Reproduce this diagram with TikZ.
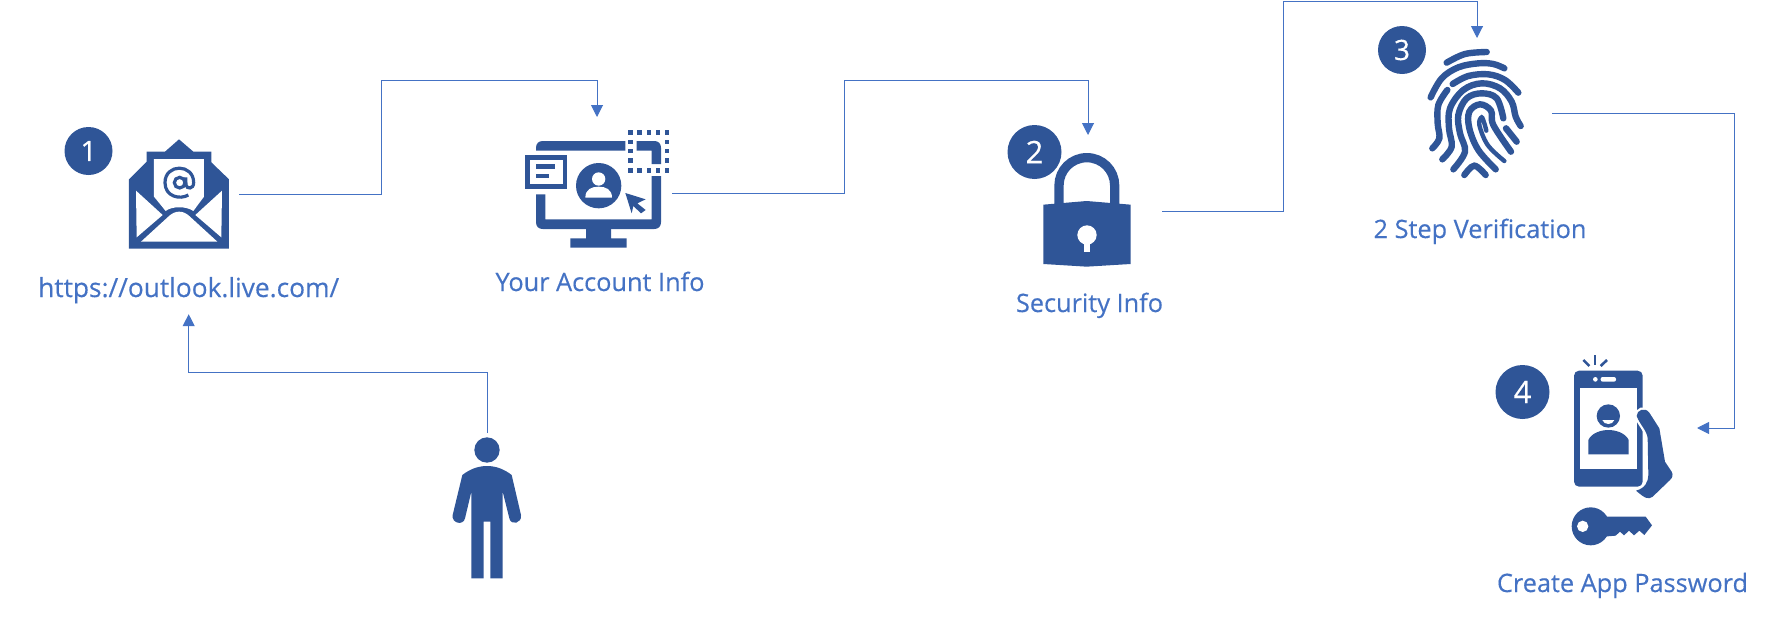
\documentclass[tikz,border=0pt]{standalone}
\usepackage{fontspec}
\setmainfont{Open Sans}
\newfontfamily\heavyfont[FakeBold=0.35]{Open Sans}
\usetikzlibrary{arrows.meta}
\definecolor{icon}{HTML}{2F5597}
\definecolor{flow}{HTML}{4472C4}
\tikzset{
  iconbox/.style={minimum width=#1,inner sep=0pt,outer sep=0pt},
  flowline/.style={draw=flow,line width=1pt,-{Triangle[length=12pt,width=12pt]}},
  badge/.style={circle,fill=icon,text=white,inner sep=0pt,minimum size=#1,font=\heavyfont\fontsize{31}{34}\selectfont},
  caption/.style={anchor=base,text=flow,inner sep=0pt,font=\heavyfont\fontsize{25.3}{30}\selectfont},
  ridge/.style={draw=icon,line width=6.4pt,line cap=round,smooth,tension=0.6}
}

\begin{document}
\begin{tikzpicture}[x=1pt,y=-1pt]
\useasboundingbox (0,0) rectangle (1769,621);

% icons are only frames here, the shapes come further down
\node [iconbox=110pt,minimum height=110pt] (mail) at (184,194) {};
\node [iconbox=150pt,minimum height=152pt] (account) at (597,193) {};
\node [iconbox=148pt,minimum height=152pt] (lock) at (1088,211) {};
\node [iconbox=150pt,minimum height=150pt] (finger) at (1477,113) {};
\node [iconbox=123pt,minimum height=120pt] (phone) at (1635.5,428) {};
\node [iconbox=70pt,minimum height=145pt] (user) at (487.7,505.5) {};

% captions
\node [caption,text depth=17pt,font=\heavyfont\fontsize{26.3}{30}\selectfont] (url) at (188.7,297) {https://outlook.live.com/};
\node [caption] (accountcap) at (600,291) {Your Account Info};
\node [caption] (lockcap) at (1089.5,312) {Security Info};
\node [caption] (fingercap) at (1480,238) {2 Step Verification};
\node [caption] (phonecap) at (1622.5,592) {Create App Password};

% numbers
\node [badge=48pt,font=\heavyfont\fontsize{28}{30}\selectfont] (one) at (88.5,151) {1};
\node [badge=54pt] (two) at (1034.5,152) {2};
\node [badge=48pt,font=\heavyfont\fontsize{28}{30}\selectfont] (three) at (1402,50) {3};
\node [badge=54pt] (four) at (1522.5,392) {4};

% bends
\coordinate (b0) at (188.7,372);
\coordinate (b1) at (381,80);
\coordinate (b2) at (844,80);
\coordinate (b3) at (1283,1);
\coordinate (b4) at (1734,428);

\draw [flowline] (user.north) |- (b0) -- (url.south);
\draw [flowline] (mail.east) -| (b1) -| (account.north);
\draw [flowline] (account.east) -| (b2) -| (lock.north);
\draw [flowline] (lock.east) -| (b3) -| (finger.north);
\draw [flowline] (finger.east) -| (b4) -- (phone.east);

% envelope
\begin{scope}[shift={(0,100)},scale=1/3]
\fill [icon] (387,446) -- (387,238) -- (440,185) -- (440,155) -- (495,155) -- (537,118) -- (580,155) -- (634,155) -- (634,187) -- (687,238) -- (687,446) -- cycle;
\fill [white] (462,177) -- (612,177) -- (612,290) -- (580,333) .. controls (560,318) and (515,318) .. (497,333) -- (462,290) -- cycle;
\fill [white] (408,272) -- (488,345) -- (410,412) -- cycle;
\fill [white] (666,272) -- (586,345) -- (664,412) -- cycle;
\fill [white] (423,425) -- (505,350) .. controls (525,330) and (550,330) .. (570,350) -- (652,425) -- cycle;
\draw [icon,line width=3.2pt] (539,248) circle (16);
\draw [icon,line width=3.2pt] (557,232) -- (558,255) .. controls (560,268) and (581,268) .. (581,248) .. controls (581,190) and (495,190) .. (495,248) .. controls (495,290) and (540,300) .. (565,285);
\end{scope}

% monitor
\begin{scope}[shift={(480,100)},scale=1/3]
\fill [icon] (436,123) -- (188,123) .. controls (176,123) and (168,131) .. (168,143) -- (168,152) -- (436,152) -- cycle;
\fill [icon] (470,123) -- (523,123) .. controls (535,123) and (543,131) .. (543,143) -- (543,192) -- (515,192) -- (515,152) -- (470,152) -- cycle;
\fill [icon] (168,283) -- (196,283) -- (196,358) -- (515,358) -- (515,228) -- (543,228) -- (543,367) .. controls (543,379) and (535,387) .. (523,387) -- (188,387) .. controls (176,387) and (168,379) .. (168,367) -- cycle;
\fill [icon] (318,387) -- (393,387) -- (393,415) -- (440,415) -- (440,443) -- (271,443) -- (271,415) -- (318,415) -- cycle;
\fill [icon] (135,166) rectangle (262,266);
\fill [white] (149,180) rectangle (248,252);
\fill [icon] (168,192) rectangle (225,206);
\fill [icon] (168,221) rectangle (206,235);
\fill [icon] (356,257) circle (68);
\fill [white] (356,237) circle (20);
\fill [white] (316,293) .. controls (316,268) and (335,260) .. (356,260) .. controls (377,260) and (396,268) .. (396,293) -- cycle;
\fill [icon] (436,279) -- (497,298) -- (472,310) -- (497,330) -- (483,340) -- (460,318) -- (455,340) -- cycle;
\foreach \x in {445,472,500,527,554} {
  \fill [icon] (\x,91) rectangle +(13,13);
  \fill [icon] (\x,205) rectangle +(13,13);
}
\foreach \y in {120,147,175} {
  \fill [icon] (445,\y) rectangle +(13,13);
  \fill [icon] (554,\y) rectangle +(13,13);
}
\end{scope}

% padlock
\begin{scope}[shift={(990,120)},scale=1/3]
\draw [icon,line width=9.3pt] (207,260) -- (207,196.5) .. controls (207,150.4) and (244,113) .. (290.5,113) .. controls (337,113) and (374,150.4) .. (374,196.5) -- (374,260);
\fill [icon] (160,254) -- (290,243) -- (422,254) -- (422,432) -- (290,440) -- (160,432) -- cycle;
\fill [white] (291,345) circle (29);
\fill [white] (281,360) rectangle (301,395);
\end{scope}

% fingerprint
\begin{scope}[shift={(1425,40)},scale=1/3]
\draw [ridge] plot coordinates {(65,68) (120,42) (185,36)};
\draw [ridge] plot coordinates {(17,172) (50,115) (100,82) (160,70) (205,72) (238,85)};
\draw [ridge] plot coordinates {(83,132) (130,108) (190,103) (240,120) (280,158)};
\draw [ridge] plot coordinates {(67,150) (40,195) (38,250) (43,295) (22,325)};
\draw [ridge] plot coordinates {(52,358) (80,320) (72,265) (75,205) (115,150) (170,130) (225,145) (260,185) (272,230) (287,258)};
\draw [ridge] plot coordinates {(85,388) (120,335) (105,280) (100,225) (125,175) (170,160) (215,175) (235,235)};
\draw [ridge] plot coordinates {(212,388) (160,330) (133,265) (133,215) (165,193) (198,212) (205,255) (258,335)};
\draw [ridge,line width=4.4pt] plot coordinates {(238,363) (188,315) (163,255) (170,232) (178,250) (184,272)};
\draw [ridge] plot coordinates {(243,265) (275,305)};
\draw [ridge] plot coordinates {(118,405) (148,377) (182,405)};
\end{scope}

% phone and key
\begin{scope}[shift={(1470,340)},scale=1/3]
\fill [icon,rounded corners=5pt] (312,92) rectangle (518,440);
\fill [white] (330,143) rectangle (500,388);
\fill [white] (376,118) circle (7);
\fill [white,rounded corners=2pt] (392,111) rectangle (438,125);
\draw [icon,line width=2.6pt] (375,45) -- (375,75);
\draw [icon,line width=2.6pt] (340,60) -- (358,78);
\draw [icon,line width=2.6pt] (411,60) -- (392,78);
\fill [icon] (415,228) circle (35);
\fill [white] (397,240) .. controls (402,256) and (428,256) .. (433,240) -- cycle;
\fill [icon] (355,343) -- (355,300) .. controls (365,278) and (395,270) .. (415,270) .. controls (435,270) and (466,278) .. (476,300) -- (476,343) -- cycle;
\fill [icon,preaction={draw=white,line width=4.5pt}] (500,228) .. controls (500,210) and (525,200) .. (538,218) -- (568,265) -- (585,365) -- (605,395) .. controls (610,405) and (608,412) .. (600,420) -- (548,470) .. controls (535,480) and (525,475) .. (498,452) .. controls (525,445) and (535,425) .. (535,405) -- (533,295) .. controls (530,270) and (510,255) .. (500,228) -- cycle;
\fill [icon] (362,559) circle (57);
\fill [icon] (400,530) -- (527,530) -- (546,556) -- (523,585) -- (508,572) -- (492,586) -- (477,572) -- (462,586) -- (450,575) -- (437,587) -- (400,590) -- cycle;
\fill [white] (338,559) circle (17);
\end{scope}

% person
\begin{scope}[shift={(420,420)},scale=1/3]
\fill [icon] (201,90) circle (38);
\fill [icon] (127,165) .. controls (150,147) and (175,138) .. (201,138) .. controls (227,138) and (252,147) .. (275,165) -- (303,285) .. controls (307,310) and (273,318) .. (268,295) -- (248,215) -- (248,475) -- (211,475) -- (211,305) -- (191,305) -- (191,475) -- (154,475) -- (154,215) -- (135,295) .. controls (130,318) and (94,310) .. (98,285) -- cycle;
\end{scope}
\end{tikzpicture}
\end{document}
